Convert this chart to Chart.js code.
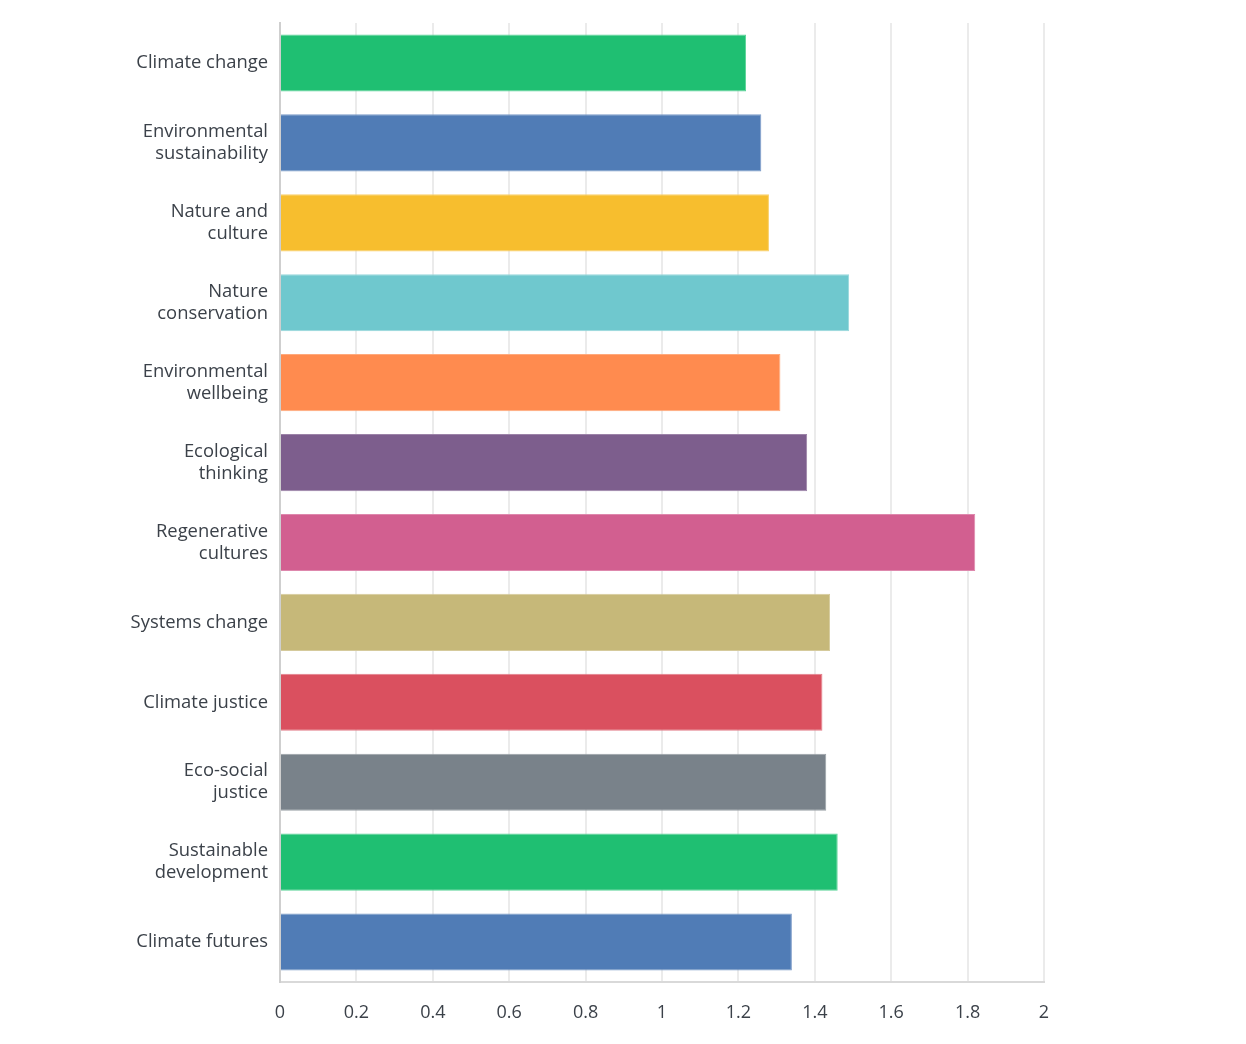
<!DOCTYPE html>
<html>
<head>
<meta charset="utf-8">
<script src="https://cdn.jsdelivr.net/npm/chart.js@4.4.0/dist/chart.umd.min.js"></script>
<style>
  html, body { margin: 0; padding: 0; background: #fff; }
  #wrap { width: 1246px; height: 1044px; }
</style>
</head>
<body>
<div id="wrap"><canvas id="Topic_Chart" width="1246" height="1044"></canvas></div>
<script>
// categories (multi-line labels as arrays)
const categories = [
    'Climate change',
    ['Environmental', 'sustainability'],
    ['Nature and', 'culture'],
    ['Nature', 'conservation'],
    ['Environmental', 'wellbeing'],
    ['Ecological', 'thinking'],
    ['Regenerative', 'cultures'],
    'Systems change',
    'Climate justice',
    ['Eco-social', 'justice'],
    ['Sustainable', 'development'],
    'Climate futures'
];
const averages = [1.22, 1.26, 1.28, 1.49, 1.31, 1.38, 1.82, 1.44, 1.42, 1.43, 1.46, 1.34];
const xTicks = [0, 0.2, 0.4, 0.6, 0.8, 1, 1.2, 1.4, 1.6, 1.8, 2];

const barColors = ['#1FBF72','#507CB6','#F7BE2E','#6FC8CE','#FF8B4F','#7D5E8D','#D25F90','#C6B879','#DA505F','#79828A','#1FBF72','#507CB6'];
const borderColors = ['#5ED49A','#7B9BC8','#F9D06A','#97D7DC','#FFA97C','#9C83A8','#DE88AD','#D5CA9C','#E27F8A','#9AA1A7','#5ED49A','#7B9BC8'];

const ctx = document.getElementById('Topic_Chart').getContext('2d');

new Chart(ctx, {
    type: 'bar',
    data: {
        labels: categories,
        datasets: [{
            data: averages,
            backgroundColor: barColors,
            borderColor: borderColors,
            borderWidth: 1,
            barPercentage: 1,
            categoryPercentage: 0.715
        }]
    },
    options: {
        indexAxis: 'y',
        responsive: false,
        animation: false,
        layout: { padding: { top: 21, right: 202, left: 0, bottom: 0 } },
        plugins: {
            legend: { display: false },
            tooltip: { enabled: false }
        },
        scales: {
            x: {
                min: 0,
                max: 2,
                afterBuildTicks: (axis) => { axis.ticks = xTicks.map(v => ({ value: v })); },
                afterFit: (axis) => { axis.height = 62; },
                grid: { color: '#ebebeb', lineWidth: 2, drawTicks: false },
                border: { color: '#d9d9d9', width: 2 },
                ticks: {
                    padding: 20,
                    color: '#3b4149',
                    font: { family: 'Open Sans', size: 18 },
                    callback: (v) => String(v)
                }
            },
            y: {
                afterFit: (axis) => { axis.width = 280; },
                grid: { display: false, drawTicks: false },
                border: { color: '#cfcfcf', width: 2 },
                ticks: {
                    padding: 12,
                    color: '#3b4149',
                    font: { family: 'Open Sans', size: 18.4, lineHeight: 1.2 }
                }
            }
        }
    }
});
</script>
</body>
</html>
